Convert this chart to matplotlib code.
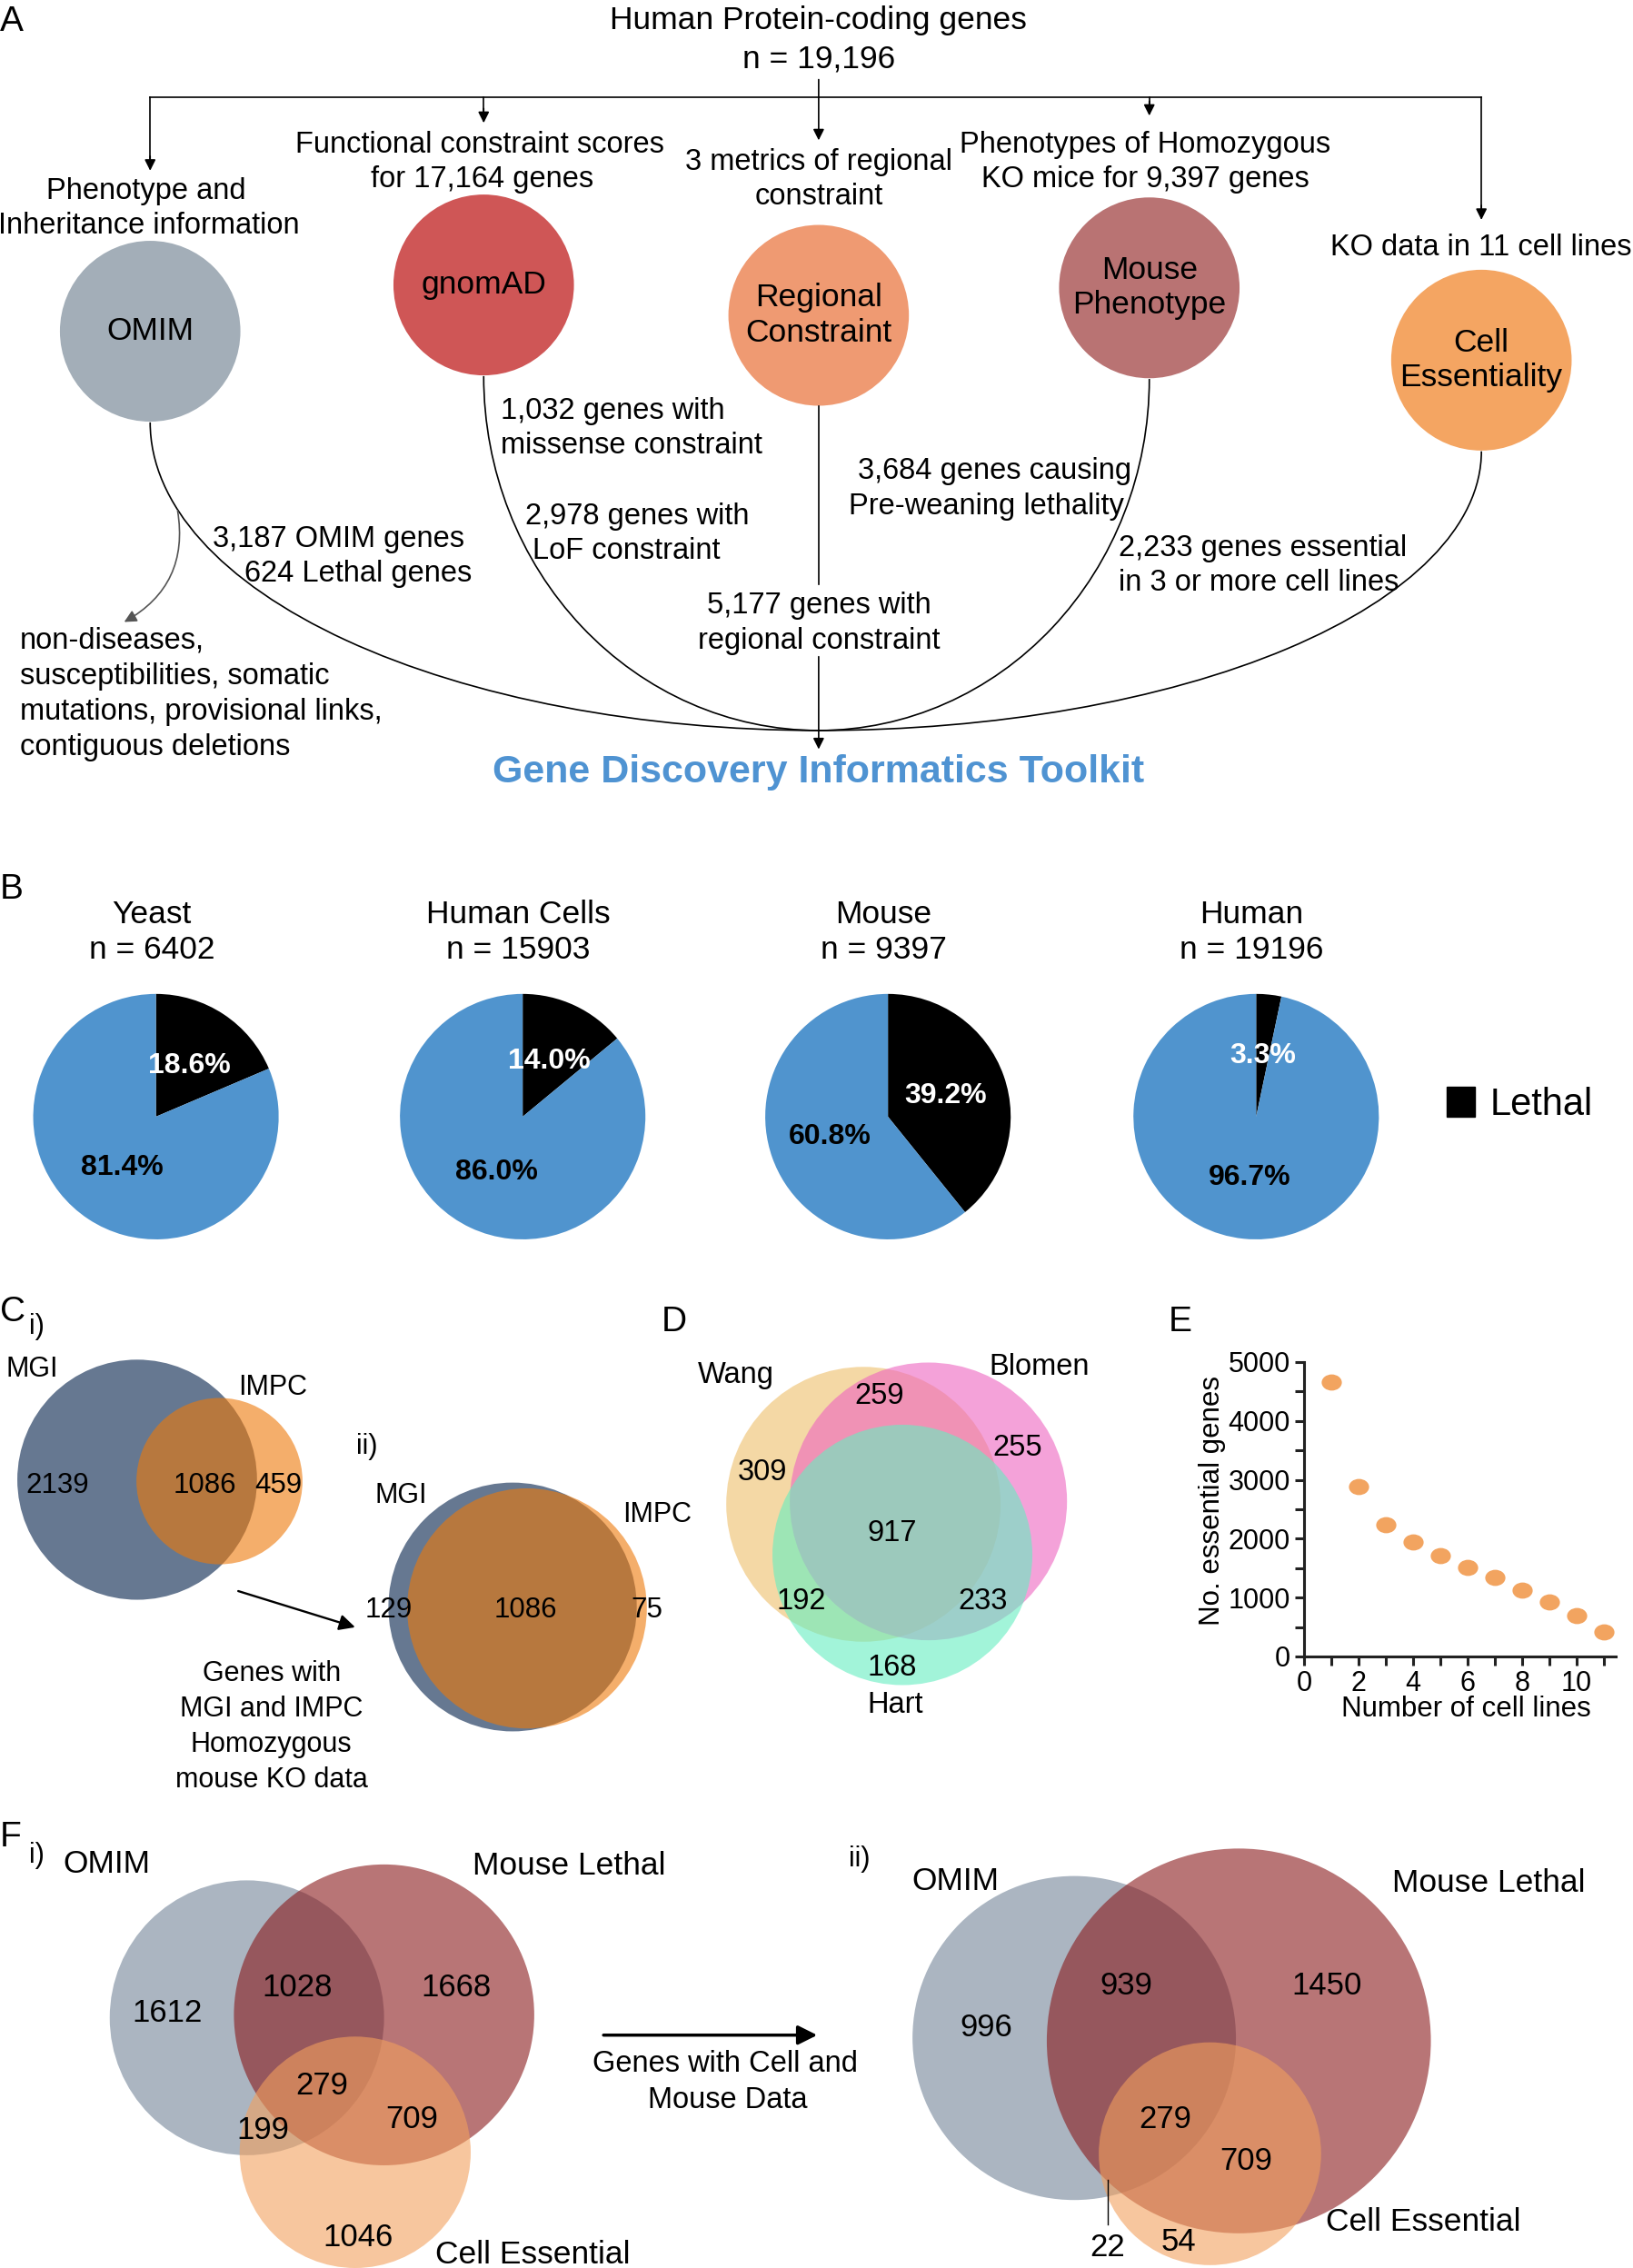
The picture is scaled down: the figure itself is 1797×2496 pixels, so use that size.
import matplotlib
matplotlib.use("Agg")
import matplotlib.pyplot as plt
from matplotlib.patches import Circle, Arc, Patch
from matplotlib.path import Path
from matplotlib.markers import MarkerStyle
from matplotlib.ticker import MultipleLocator

plt.rcParams['font.family'] = ['Liberation Sans', 'DejaVu Sans']

# ---- data -------------------------------------------------------------
# B: lethality per organism
species = ["Yeast", "Human Cells", "Mouse", "Human"]
species_n = [6402, 15903, 9397, 19196]
lethal_pct = [18.6, 14.0, 39.2, 3.3]
viable_pct = [81.4, 86.0, 60.8, 96.7]

# C: MGI vs IMPC  (MGI only, both, IMPC only)
c_sets = ["MGI", "IMPC"]
c1_counts = [2139, 1086, 459]
c2_counts = [129, 1086, 75]

# D: cell essentiality screens
d_sets = ["Wang", "Blomen", "Hart"]
# W, B, H, WB, WH, BH, WBH
d_counts = [309, 255, 168, 259, 192, 233, 917]

# E: essential genes vs number of cell lines
n_cell_lines = [1, 2, 3, 4, 5, 6, 7, 8, 9, 10, 11]
n_essential = [4653, 2880, 2233, 1942, 1708, 1514, 1341, 1121, 928, 688, 418]

# F: OMIM / Mouse Lethal / Cell Essential
f_sets = ["OMIM", "Mouse Lethal", "Cell Essential"]
# O, OM, M, OMC, OC, MC, C
f1_counts = [1612, 1028, 1668, 279, 199, 709, 1046]
f2_counts = [996, 939, 1450, 279, 22, 709, 54]

# A: resources
res_names = ["OMIM", "gnomAD", "Regional\nConstraint", "Mouse\nPhenotype", "Cell\nEssentiality"]
res_colors = ["#a3aeb8", "#cf5656", "#ef9a72", "#b97373", "#f4a562"]

W, H = 1131, 1568
fig = plt.figure(figsize=(17.97, 24.96), dpi=100)
ax = fig.add_axes([0, 0, 1, 1])
ax.set_xlim(0, W)
ax.set_ylim(H, 0)
ax.axis("off")


def txt(x, y, s, size=23.5, ha="center", **kw):
    ax.text(x, y + 2, s, fontsize=size, ha=ha, va="center", **kw)


def letter(x, y, s, size=28):
    ax.text(x, y + 2, s, fontsize=size, ha="left", va="center")


def arrow(x0, y0, x1, y1, lw=1.2, ms=18, color="black", **kw):
    ax.annotate("", xy=(x1, y1), xytext=(x0, y0),
                arrowprops=dict(arrowstyle="-|>", lw=lw, color=color,
                                mutation_scale=ms, shrinkA=0, shrinkB=0, **kw))


# ---- A ----------------------------------------------------------------
letter(0, 13, "A")
txt(567, 12, "Human Protein-coding genes", size=25.5)
txt(567, 39, "n = 19,196", size=25.5)
ax.plot([104, 1026], [67, 67], color="black", lw=1.2)
arrow(567, 55, 567, 97)
for bx, by in [(104, 118), (335, 85), (796, 80), (1026, 152)]:
    ax.plot([bx, bx], [67, by - 8], color="black", lw=1.2)
    arrow(bx, by - 10, bx, by)

txt(101, 130, "Phenotype and")
txt(103, 154, "Inheritance information")
txt(332, 98, "Functional constraint scores")
txt(334, 122, "for 17,164 genes")
txt(567, 110, "3 metrics of regional")
txt(567, 134, "constraint")
txt(793, 98, "Phenotypes of Homozygous")
txt(793, 122, "KO mice for 9,397 genes")
txt(1026, 169, "KO data in 11 cell lines")

res_xy = [(104, 229), (335, 197), (567, 218), (796, 199), (1026, 249)]
for (cx, cy), name, col in zip(res_xy, res_names, res_colors):
    ax.add_patch(Circle((cx, cy), 62.5, color=col, lw=0))
    txt(cx, cy - 2, name, size=25.5, linespacing=1.2)

# arcs converging on the toolkit
for (cx, cy), w, h, t1, t2 in [((567, 292), 463, 213, 90, 180),
                               ((567, 260), 232, 245, 90, 180),
                               ((567, 262), 229, 243, 0, 90),
                               ((567, 312), 459, 193, 0, 90)]:
    ax.add_patch(Arc((cx, cy), 2 * w, 2 * h, theta1=t1, theta2=t2, color="black", lw=1.2))
ax.plot([567, 567], [281, 404], color="black", lw=1.2)
arrow(567, 454, 567, 518)
arrow(123, 353, 86, 430, lw=1.2, ms=20, color="#555555", connectionstyle="arc3,rad=-0.35")

txt(147, 371, "3,187 OMIM genes", ha="left")
txt(169, 395, "624 Lethal genes", ha="left")
for i, s in enumerate(["non-diseases,", "susceptibilities, somatic",
                       "mutations, provisional links,", "contiguous deletions"]):
    txt(14, 441 + 24.5 * i, s, ha="left")
txt(347, 282, "1,032 genes with", ha="left")
txt(347, 306, "missense constraint", ha="left")
txt(364, 355, "2,978 genes with", ha="left")
txt(369, 379, "LoF constraint", ha="left")
txt(567, 417, "5,177 genes with")
txt(567, 441, "regional constraint")
txt(689, 324, "3,684 genes causing")
txt(683, 348, "Pre-weaning lethality")
txt(775, 377, "2,233 genes essential", ha="left")
txt(775, 401, "in 3 or more cell lines", ha="left")
txt(567, 532, "Gene Discovery Informatics Toolkit", size=31, color="#4f93d2", fontweight="bold")

# ---- B ----------------------------------------------------------------
letter(0, 613, "B")
pie_x = [108, 362, 615, 870]
pie_y, pie_r = 772, 85


def fig_rect(cx, cy, half):
    ax_ = cx * 1797 / W
    ay_ = cy * 2496 / H
    h = half * 1797 / W
    return [(ax_ - h) / 1797, 1 - (ay_ + h) / 2496, 2 * h / 1797, 2 * h / 2496]


for px, name, n, le, vi in zip(pie_x, species, species_n, lethal_pct, viable_pct):
    txt(px - 3, 630, name, size=25.5)
    txt(px - 3, 655, f"n = {n}", size=25.5)
    pax = fig.add_axes(fig_rect(px, pie_y, pie_r * 1.2))
    wedges, texts, autos = pax.pie([le, vi], colors=["black", "#5094ce"], startangle=90,
                                   counterclock=False, autopct="%.1f%%", pctdistance=0.5,
                                   textprops=dict(fontsize=23, fontweight="bold"))
    autos[0].set_color("white")
    autos[1].set_color("black")
    pax.set_xlim(-1.2, 1.2)
    pax.set_ylim(-1.2, 1.2)
    pax.axis("off")

ax.legend(handles=[Patch(color="black", label="Lethal")], loc="center left",
          bbox_to_anchor=(1002, 764), bbox_transform=ax.transData, frameon=False,
          fontsize=30, handlelength=0.75, handleheight=0.85, handletextpad=0.4,
          borderpad=0, borderaxespad=0)

# ---- C ----------------------------------------------------------------
letter(0, 905, "C")
txt(20, 915, "i)", size=22, ha="left")
c_mgi, c_impc = "#001e48", "#ee7808"
ax.add_patch(Circle((95, 1023), 83, color=c_mgi, alpha=0.6, lw=0))
ax.add_patch(Circle((152, 1024), 57.5, color=c_impc, alpha=0.6, lw=0))
txt(22, 945, c_sets[0], size=22)
txt(189, 957, c_sets[1], size=22)
for x, v in zip([40, 142, 193], c1_counts):
    txt(x, 1025, str(v), size=22.5)

txt(254, 998, "ii)", size=22)
ax.add_patch(Circle((355, 1111), 86, color=c_mgi, alpha=0.6, lw=0))
ax.add_patch(Circle((365, 1112), 83, color=c_impc, alpha=0.6, lw=0))
txt(278, 1032, c_sets[0], size=22)
txt(455, 1045, c_sets[1], size=22)
for x, v in zip([269, 364, 448], c2_counts):
    txt(x, 1111, str(v), size=22.5)
arrow(165, 1100, 246, 1125, lw=1.7, ms=26)
for i, s in enumerate(["Genes with", "MGI and IMPC", "Homozygous", "mouse KO data"]):
    txt(188, 1155 + 24.5 * i, s, size=22)

# ---- D ----------------------------------------------------------------
letter(458, 912, "D")
for (cx, cy, r), col in zip([(598, 1040, 95), (643, 1038, 96), (625, 1075, 90)],
                            ["#eebe69", "#ee64c1", "#64eec1"]):
    ax.add_patch(Circle((cx, cy), r, color=col, alpha=0.6, lw=0))
txt(510, 949, d_sets[0])
txt(720, 943, d_sets[1])
txt(620, 1177, d_sets[2])
d_pos = [(528, 1016), (705, 999), (618, 1151), (609, 963), (555, 1105), (681, 1105), (618, 1058)]
for (x, y), v in zip(d_pos, d_counts):
    txt(x, y, str(v))

# ---- E ----------------------------------------------------------------
letter(809, 912, "E")
eax = fig.add_axes([1435 / 1797, 1 - 1823 / 2496, 343 / 1797, 324 / 2496])
circ = Path.unit_circle()
ell = Path(circ.vertices * [1.0, 0.8], circ.codes)
eax.plot(n_cell_lines, n_essential, linestyle="none", marker=MarkerStyle(ell),
         markersize=16, color="#f2a460", markeredgewidth=0, clip_on=False)
eax.set_xlim(0, 11.45)
eax.set_ylim(0, 5000)
eax.xaxis.set_major_locator(MultipleLocator(2))
eax.xaxis.set_minor_locator(MultipleLocator(1))
eax.yaxis.set_major_locator(MultipleLocator(1000))
eax.yaxis.set_minor_locator(MultipleLocator(500))
for s in ["top", "right"]:
    eax.spines[s].set_visible(False)
for s in ["left", "bottom"]:
    eax.spines[s].set_linewidth(2.2)
    eax.spines[s].set_color("#222222")
eax.tick_params(which="both", length=7, width=2.2, color="#222222", labelsize=22, pad=4)
eax.set_xlabel("Number of cell lines", fontsize=22.5, va="center")
eax.set_ylabel("No. essential genes", fontsize=22.5, va="center")
eax.xaxis.set_label_coords(0.52, -0.18)
eax.yaxis.set_label_coords(-0.295, 0.53)
eax.patch.set_alpha(0)

# ---- F ----------------------------------------------------------------
letter(0, 1268, "F")
txt(20, 1281, "i)", size=22, ha="left")
f_cols = ["#738599", "#89191b", "#f2a05d"]
for (cx, cy, r), col in zip([(171, 1395, 95), (266, 1393, 104), (246, 1488, 80)], f_cols):
    ax.add_patch(Circle((cx, cy), r, color=col, alpha=0.6, lw=0))
txt(74, 1287, f_sets[0], size=25.5)
txt(394, 1288, f_sets[1], size=25.5)
txt(369, 1557, f_sets[2], size=25.5)
f1_pos = [(116, 1390), (206, 1372), (316, 1372), (223, 1440), (182, 1471), (285, 1463), (248, 1545)]
for (x, y), v in zip(f1_pos, f1_counts):
    txt(x, y, str(v), size=25)

arrow(418, 1407, 566, 1407, lw=2.5, ms=32)
txt(502, 1425, "Genes with Cell and")
txt(504, 1450, "Mouse Data")

txt(588, 1283, "ii)", size=22, ha="left")
for (cx, cy, r), col in zip([(744, 1409, 112), (858, 1411, 133), (838, 1489, 77)], f_cols):
    ax.add_patch(Circle((cx, cy), r, color=col, alpha=0.6, lw=0))
txt(662, 1299, f_sets[0], size=25.5)
txt(1031, 1300, f_sets[1], size=25.5)
txt(986, 1534, f_sets[2], size=25.5)
f2_pos = [(683, 1400), (780, 1371), (919, 1371), (807, 1463), (767, 1552), (863, 1492), (816, 1548)]
for (x, y), v in zip(f2_pos, f2_counts):
    txt(x, y, str(v), size=25)
ax.plot([767, 767], [1507, 1538], color="black", lw=1.0)

fig.savefig("out.png", dpi=100)
